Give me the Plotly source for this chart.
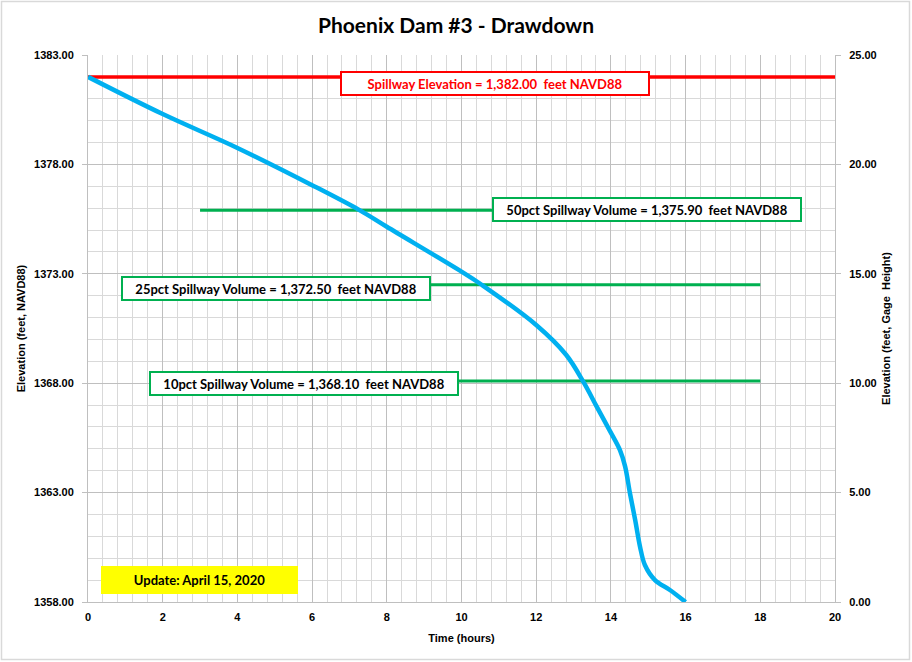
import plotly.graph_objects as go

# ---------------- data ----------------
time_hours = [0, 2, 4, 6, 7.28, 8, 10, 10.54, 12, 12.8, 13.26, 13.62, 13.98,
              14.24, 14.38, 14.51, 14.65, 14.78, 14.91, 15.18, 15.58, 16.0]
elevation = [1382.0, 1380.3, 1378.75, 1377.05, 1375.9, 1375.15, 1373.1, 1372.5,
             1370.66, 1369.3, 1368.07, 1366.93, 1365.8, 1364.95, 1364.2,
             1362.97, 1361.75, 1360.53, 1359.69, 1359.0, 1358.55, 1358.0]

spillway_elev = 1382.00
spillway_x = [0, 20]
volume_levels = [1375.90, 1372.50, 1368.10]
volume_names = ["50pct", "25pct", "10pct"]
volume_x = [3, 18]
gage_datum = 1358.0

x_ticks = list(range(0, 21, 2))
left_ticks = [1358, 1363, 1368, 1373, 1378, 1383]
right_ticks = [0, 5, 10, 15, 20, 25]

# ---------------- layout constants ----------------
W, H = 912, 662
ML, MR, MT, MB = 88, 77, 55, 60
PW, PH = W - ML - MR, H - MT - MB

BLUE = "#00B0F0"
RED = "#FF0000"
GREEN = "#00B050"
MINOR = "#d9d9d9"
MAJOR = "#bfbfbf"
TICKFONT = dict(family="Liberation Sans, Arial", size=11, color="black", weight="bold")
BOXFONT = "Lato, Carlito, Calibri"

fig = go.Figure()

# spillway elevation line
fig.add_trace(go.Scatter(x=spillway_x, y=[spillway_elev] * 2, mode="lines",
                         line=dict(color=RED, width=3.5), hoverinfo="skip",
                         showlegend=False))
# volume lines
for lvl in volume_levels:
    fig.add_trace(go.Scatter(x=volume_x, y=[lvl] * 2, mode="lines",
                             line=dict(color=GREEN, width=3), hoverinfo="skip",
                             showlegend=False))
# drawdown curve
fig.add_trace(go.Scatter(x=time_hours, y=elevation, mode="lines",
                         line=dict(color=BLUE, width=4.5, shape="spline", smoothing=1.0),
                         showlegend=False, name="Drawdown"))
# gage height on secondary axis (invisible, defines the right axis)
fig.add_trace(go.Scatter(x=time_hours, y=[e - gage_datum for e in elevation],
                         yaxis="y2", mode="lines", line=dict(width=0, color="rgba(0,0,0,0)"),
                         hoverinfo="skip", showlegend=False))


def box(text, x, y, color, textcolor, bg="white", bw=2, width=304, height=19):
    fig.add_annotation(x=x, y=y, xref="x", yref="y", text=text, showarrow=False,
                       font=dict(family=BOXFONT, size=13, color=textcolor, weight="bold"),
                       bgcolor=bg, bordercolor=color, borderwidth=bw, borderpad=1,
                       width=width, height=height, align="center", valign="middle")


box(f"Spillway Elevation = {spillway_elev:,.2f}  feet NAVD88", 10.9, 1381.72, RED, RED)
label_pos = [(14.97, 1375.96), (5.02, 1372.33), (5.77, 1367.99)]
for name, lvl, (lx, ly) in zip(volume_names, volume_levels, label_pos):
    box(f"{name} Spillway Volume = {lvl:,.2f}  feet NAVD88", lx, ly, GREEN, "black")
box("Update: April 15, 2020", 2.99, 1358.99, "#FFFF00", "black", bg="#FFFF00", bw=0,
    width=195, height=26)

# outer chart border
fig.add_shape(type="rect", xref="paper", yref="paper",
              x0=(1.5 - ML) / PW, x1=(W - 2.5 - ML) / PW,
              y0=(H - MB - (H - 2.5)) / PH, y1=(H - MB - 1.5) / PH,
              line=dict(color="#d9d9d9", width=1.5), layer="below")

fig.update_layout(
    width=W, height=H,
    margin=dict(l=ML, r=MR, t=MT, b=MB),
    paper_bgcolor="white", plot_bgcolor="white",
    title=dict(text="Phoenix Dam #3 - Drawdown", x=0.5, xanchor="center",
               y=1 - 26 / H, yanchor="middle", yref="container",
               font=dict(family="Lato, Carlito, Calibri", size=21, color="black", weight="bold")),
    xaxis=dict(range=[0, 20], tickvals=x_ticks, ticktext=[str(v) for v in x_ticks],
               showgrid=True, gridcolor=MAJOR, gridwidth=1,
               minor=dict(dtick=0.4, showgrid=True, gridcolor=MINOR, gridwidth=1),
               showline=True, linecolor=MAJOR, linewidth=1,
               ticks="", tickfont=TICKFONT, ticklabelstandoff=5,
               zeroline=False,
               title=dict(text="Time (hours)", font=TICKFONT, standoff=12)),
    yaxis=dict(range=[1358, 1383], tickvals=left_ticks,
               ticktext=[f"{v:.2f}" for v in left_ticks],
               showgrid=True, gridcolor=MAJOR, gridwidth=1,
               minor=dict(dtick=1, showgrid=True, gridcolor=MINOR, gridwidth=1),
               showline=True, linecolor=MAJOR, linewidth=1,
               ticks="outside", ticklen=5, tickcolor=MAJOR,
               tickfont=TICKFONT, ticklabelstandoff=6, zeroline=False,
               title=dict(text="Elevation (feet, NAVD88)", font=TICKFONT, standoff=6)),
    yaxis2=dict(range=[0, 25], tickvals=right_ticks,
                ticktext=[f"{v:.2f}" for v in right_ticks],
                overlaying="y", side="right", showgrid=False,
                showline=True, linecolor=MAJOR, linewidth=1,
                ticks="outside", ticklen=5, tickcolor=MAJOR,
                tickfont=TICKFONT, ticklabelstandoff=6, zeroline=False,
                title=dict(text="Elevation (feet, Gage  Height)", font=TICKFONT, standoff=6)),
)

fig.write_html("out.html")
